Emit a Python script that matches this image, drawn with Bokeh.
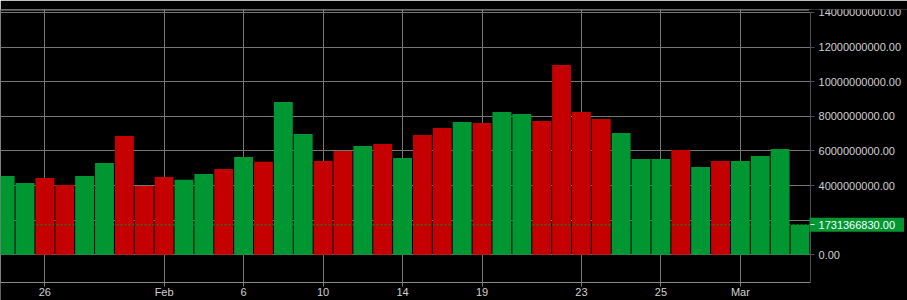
from bokeh.plotting import figure
from bokeh.models import (Range1d, FixedTicker, PrintfTickFormatter, Label,
                          ColumnDataSource, LinearAxis)
from bokeh.embed import file_html
from bokeh.resources import INLINE

# ---- data ----
volumes = [
    4.56e9, 4.15e9, 4.44e9, 4.04e9, 4.56e9, 5.31e9, 6.87e9, 3.98e9, 4.50e9, 4.33e9,
    4.67e9, 4.96e9, 5.65e9, 5.37e9, 8.83e9, 6.98e9, 5.42e9, 6.00e9, 6.29e9, 6.40e9,
    5.60e9, 6.92e9, 7.33e9, 7.67e9, 7.62e9, 8.25e9, 8.14e9, 7.73e9, 10.96e9, 8.25e9,
    7.85e9, 7.04e9, 5.54e9, 5.54e9, 6.06e9, 5.08e9, 5.42e9, 5.42e9, 5.71e9, 6.12e9,
    1731366830,
]
directions = [
    "up", "up", "down", "down", "up", "up", "down", "down", "down", "up",
    "up", "down", "up", "down", "up", "up", "down", "down", "up", "down",
    "up", "down", "down", "up", "down", "up", "up", "down", "down", "down",
    "down", "up", "up", "up", "down", "up", "down", "up", "up", "up",
    "up",
]
tick_index = [2, 8, 12, 16, 20, 24, 29, 33, 37]
tick_labels = ["26", "Feb", "6", "10", "14", "19", "23", "25", "Mar"]
y_label_ticks = [0, 4e9, 6e9, 8e9, 10e9, 12e9, 14e9]
y_grid_ticks = [0, 2e9, 4e9, 6e9, 8e9, 10e9, 12e9, 14e9]

# ---- layout / style ----
UP = "#009632"
DOWN = "#c40000"
BG = "#000000"
FONT = "Liberation Sans"
X0, X1 = -0.233, 45.41          # full canvas width
Y0, Y1 = -2.64e9, 14.173e9      # frame from y=9 to the bottom edge
AXIS_X = 40.53                  # where the price scale sits
AXIS_Y = -1.60e9                # where the time scale sits

colors = [UP if d == "up" else DOWN for d in directions]
src = ColumnDataSource(dict(x=list(range(len(volumes))), top=volumes, color=colors))

p = figure(width=907, height=300, output_backend="svg", toolbar_location=None,
           x_range=Range1d(X0, X1), y_range=Range1d(Y0, Y1),
           y_axis_location="right",
           min_border_left=0, min_border_right=0, min_border_top=9, min_border_bottom=0,
           background_fill_color=BG, border_fill_color=BG)
p.outline_line_color = None

# bars
p.vbar(x="x", top="top", bottom=0, width=0.95, color="color", line_color=None, source=src)

# last value dotted line
last = volumes[-1]
p.segment(x0=[X0], x1=[AXIS_X], y0=[last], y1=[last], line_color=UP, line_width=1, line_dash="2 2")

# blank out the scale areas (right and bottom)
p.quad(left=[AXIS_X, X0], right=[X1, AXIS_X], bottom=[Y0, Y0], top=[Y1, AXIS_Y],
       fill_color=BG, line_color=None)

# frame lines: top border, bottom time-scale line, right price-scale line
p.segment(x0=[X0], x1=[AXIS_X - 0.08], y0=[Y1], y1=[Y1], line_color="#9a9a9a", line_width=2)
p.segment(x0=[X0], x1=[AXIS_X], y0=[AXIS_Y], y1=[AXIS_Y], line_color="#8a8a8a", line_width=1)
p.segment(x0=[AXIS_X], x1=[AXIS_X], y0=[AXIS_Y], y1=[y_label_ticks[-1]], line_color="#50505c", line_width=1)

# grids
p.xgrid.ticker = FixedTicker(ticks=tick_index)
p.ygrid.ticker = FixedTicker(ticks=y_grid_ticks)
p.grid.grid_line_color = "#767676"

# x axis (time scale)
p.xaxis.fixed_location = AXIS_Y
p.xaxis.ticker = FixedTicker(ticks=tick_index)
p.xaxis.major_label_overrides = {i: t for i, t in zip(tick_index, tick_labels)}
p.xaxis.axis_line_color = None
p.xaxis.major_tick_line_color = "#767676"
p.xaxis.major_tick_out = 4
p.xaxis.major_tick_in = 0
p.xaxis.minor_tick_line_color = None
p.xaxis.major_label_standoff = 0
p.xaxis.major_label_text_color = "#d0d0d0"
p.xaxis.major_label_text_font = FONT
p.xaxis.major_label_text_font_size = "11px"

# y axis (price scale)
p.yaxis.fixed_location = AXIS_X
p.yaxis.ticker = FixedTicker(ticks=y_label_ticks)
p.yaxis.formatter = PrintfTickFormatter(format="%.2f")
p.yaxis.axis_line_color = None
p.yaxis.major_tick_line_color = "#50505c"
p.yaxis.major_tick_out = 4
p.yaxis.major_tick_in = 0
p.yaxis.minor_tick_line_color = None
p.yaxis.major_label_standoff = 4
p.yaxis.major_label_text_color = "#d0d0d0"
p.yaxis.major_label_text_font = FONT
p.yaxis.major_label_text_font_size = "11px"

# last value label
p.add_layout(Label(x=AXIS_X, y=last, x_offset=-1, text=f"{last:.2f}", text_color="#ffffff",
                   text_font=FONT, text_font_size="11px",
                   text_align="left", text_baseline="middle",
                   background_fill_color=UP, padding=(9, 3)))

# white marker tick of the last value
mark_axis = LinearAxis(fixed_location=AXIS_X, ticker=FixedTicker(ticks=[last]),
                       formatter=PrintfTickFormatter(format=""),
                       axis_line_color=None, major_tick_line_color="#ffffff",
                       major_tick_out=4, major_tick_in=0, minor_tick_line_color=None,
                       level="overlay")
p.add_layout(mark_axis, "right")

open("out.html", "w").write(file_html(p, INLINE))
